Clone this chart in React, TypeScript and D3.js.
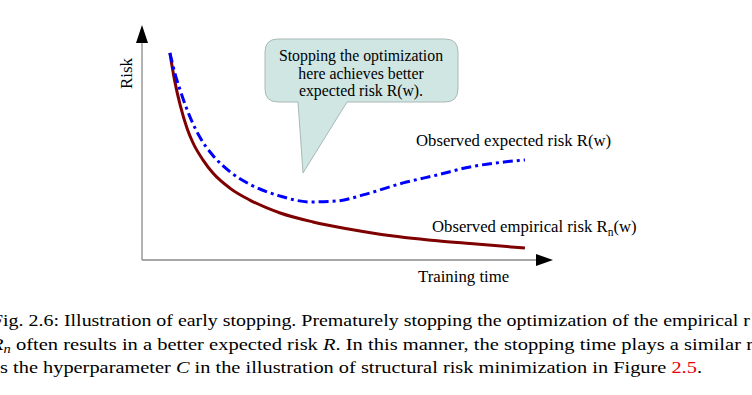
import React from 'react';
import * as d3 from 'd3';

// training time (arbitrary units) and risk values
const empiricalTime = [0.68, 0.8, 0.93, 1.1, 1.24, 1.49, 1.73, 2.15, 2.63, 3.37, 4.17, 5.0, 5.8, 7.2, 8.0, 9.34];
const empiricalRisk = [8.81, 7.6, 6.6, 5.6, 5.0, 4.25, 3.7, 3.05, 2.55, 2.0, 1.62, 1.33, 1.1, 0.82, 0.7, 0.51];

const expectedTime = [0.68, 0.8, 0.93, 1.17, 1.41, 1.73, 2.15, 2.63, 3.37, 4.1, 4.76, 5.39, 6.37, 7.2, 8.0, 8.83, 9.34];
const expectedRisk = [8.81, 7.96, 7.23, 6.09, 5.23, 4.45, 3.75, 3.22, 2.72, 2.47, 2.51, 2.77, 3.28, 3.62, 3.96, 4.17, 4.26];

const bubbleLines = ['Stopping the optimization', 'here achieves better', 'expected risk R(w).'];

const serif = '"Liberation Serif", "Times New Roman", serif';

interface Pt {
    t: number;
    r: number;
}

const App: React.FC = () => {
    const width = 752;
    const height = 395;

    const x = d3.scaleLinear().domain([0, 10]).range([142, 552]);
    const y = d3.scaleLinear().domain([0, 10]).range([260, 25]);

    const empirical: Pt[] = empiricalTime.map((t, i) => ({ t, r: empiricalRisk[i] }));
    const expected: Pt[] = expectedTime.map((t, i) => ({ t, r: expectedRisk[i] }));

    const line = d3
        .line<Pt>()
        .x((d) => x(d.t))
        .y((d) => y(d.r))
        .curve(d3.curveMonotoneX);

    const x0 = x(0);
    const y0 = y(0);
    const axisColor = '#8a8a8a';

    // speech bubble
    const bx0 = 265, bx1 = 458, by0 = 39, by1 = 102, br = 13;
    const bubblePath = [
        `M${bx0 + br},${by0}`,
        `L${bx1 - br},${by0}`,
        `Q${bx1},${by0} ${bx1},${by0 + br}`,
        `L${bx1},${by1 - br}`,
        `Q${bx1},${by1} ${bx1 - br},${by1}`,
        `L347,${by1}`,
        `L303,173`,
        `L298,${by1}`,
        `L${bx0 + br},${by1}`,
        `Q${bx0},${by1} ${bx0},${by1 - br}`,
        `L${bx0},${by0 + br}`,
        `Q${bx0},${by0} ${bx0 + br},${by0}`,
        'Z',
    ].join(' ');

    return (
        <svg
            width={width}
            height={height}
            style={{ position: 'absolute', left: 0, top: 0, display: 'block', background: '#fff' }}
        >
            {/* axes */}
            <line x1={x0} y1={y0} x2={x0} y2={43} stroke={axisColor} strokeWidth={1.3} />
            <line x1={x0} y1={y0} x2={536} y2={y0} stroke={axisColor} strokeWidth={1.3} />
            <path d={`M${x0 - 6},43 L${x0 + 6},43 L${x0},25 Z`} fill="#000" />
            <path d={`M536,${y0 - 6} L536,${y0 + 6} L553,${y0} Z`} fill="#000" />

            <text
                transform={`translate(132, 73.5) rotate(-90)`}
                textAnchor="middle"
                fontFamily={serif}
                fontSize={17}
                fill="#000"
            >
                Risk
            </text>
            <text x={418} y={282} fontFamily={serif} fontSize={16.8} fill="#000">
                Training time
            </text>

            {/* curves */}
            <path d={line(empirical) || ''} fill="none" stroke="#7f0000" strokeWidth={3} />
            <path
                d={line(expected) || ''}
                fill="none"
                stroke="#0000ff"
                strokeWidth={3}
                strokeDasharray="10,4,3,4"
            />

            {/* bubble */}
            <path d={bubblePath} fill="#cfe6e3" stroke="#a9b9b7" strokeWidth={1} />
            {bubbleLines.map((s, i) => (
                <text
                    key={s}
                    x={361}
                    y={61 + i * 17.5}
                    textAnchor="middle"
                    fontFamily={serif}
                    fontSize={15.8}
                    fill="#000"
                >
                    {s}
                </text>
            ))}

            {/* curve labels */}
            <text x={416} y={146} fontFamily={serif} fontSize={16.7} fill="#000">
                Observed expected risk R(w)
            </text>
            <text x={432} y={232} fontFamily={serif} fontSize={16.7} fill="#000">
                Observed empirical risk R<tspan fontSize={11.5} dy={4}>n</tspan>
                <tspan dy={-4}>(w)</tspan>
            </text>

            {/* caption */}
            <text
                x={-8}
                y={326}
                fontFamily={serif}
                fontSize={17}
                fill="#000"
                textLength={758}
                lengthAdjust="spacingAndGlyphs"
            >
                Fig. 2.6: Illustration of early stopping. Prematurely stopping the optimization of the empirical r
            </text>
            <text
                x={-9}
                y={350}
                fontFamily={serif}
                fontSize={17}
                fill="#000"
                textLength={762}
                lengthAdjust="spacingAndGlyphs"
            >
                <tspan fontStyle="italic">R</tspan>
                <tspan fontStyle="italic" fontSize={12} dy={3}>n</tspan>
                <tspan dy={-3}> often results in a better expected risk </tspan>
                <tspan fontStyle="italic">R</tspan>
                <tspan>. In this manner, the stopping time plays a similar r</tspan>
            </text>
            <text
                x={-9}
                y={373}
                fontFamily={serif}
                fontSize={17}
                fill="#000"
                textLength={711}
                lengthAdjust="spacingAndGlyphs"
            >
                <tspan>as the hyperparameter </tspan>
                <tspan fontStyle="italic">C</tspan>
                <tspan> in the illustration of structural risk minimization in Figure </tspan>
                <tspan fill="#e8000b">2.5</tspan>
                <tspan>.</tspan>
            </text>
        </svg>
    );
};

export default App;
